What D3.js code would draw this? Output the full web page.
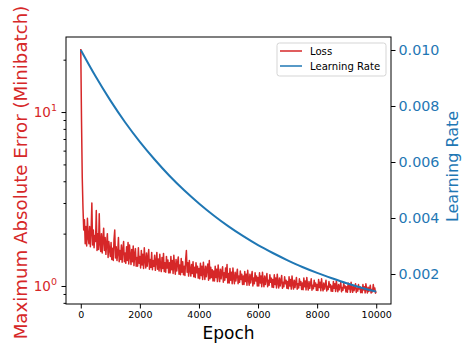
<!DOCTYPE html>
<html>
<head>
<meta charset="utf-8">
<script src="https://cdn.jsdelivr.net/npm/d3@7"></script>
<style>
  html, body { margin: 0; padding: 0; background: #fff; }
  svg { display: block; font-family: "DejaVu Sans", sans-serif; }
</style>
</head>
<body>
<svg id="chart" width="474" height="355"></svg>
<script>
// ---------- data ----------
const lossStep = 25; // epochs between loss samples
const lossValues = [
  23, 9, 4.2, 2.8, 2.1, 2.4, 1.75, 2.2, 1.7, 2.45, 1.9, 1.75, 2.2, 1.68, 2.05, 3.0, 1.72, 2.1, 1.66, 1.95,
  1.8, 2.72, 1.6, 2.0, 1.62, 2.6, 1.75, 1.58, 2.0, 1.55, 1.85, 2.15, 1.6, 1.9, 1.52, 1.75, 2.0, 1.46, 1.8, 1.62,
  1.48, 1.78, 1.42, 1.65, 1.4, 1.85, 2.1, 1.45, 1.68, 1.4, 1.55, 1.9, 1.38, 1.6, 1.42, 1.72, 1.37, 1.62, 1.8, 1.38,
  1.55, 1.35, 1.68, 1.4, 1.78, 1.34, 1.72, 1.5, 1.33, 1.62, 1.38, 1.7, 1.31, 1.52, 1.64, 1.3, 1.46, 1.3, 1.66, 1.35,
  1.48, 1.27, 1.6, 1.32, 1.52, 1.26, 1.66, 1.4, 1.27, 1.55, 1.3, 1.45, 1.62, 1.25, 1.42, 1.28, 1.56, 1.24, 1.4, 1.3,
  1.5, 1.23, 1.38, 1.56, 1.25, 1.43, 1.22, 1.52, 1.3, 1.21, 1.46, 1.26, 1.54, 1.21, 1.36, 1.2, 1.48, 1.27, 1.41, 1.19,
  1.36, 1.19, 1.48, 1.24, 1.4, 1.18, 1.5, 1.28, 1.17, 1.42, 1.22, 1.35, 1.47, 1.17, 1.32, 1.16, 1.44, 1.2, 1.38, 1.16,
  1.3, 1.15, 1.42, 1.6, 1.2, 1.36, 1.14, 1.4, 1.24, 1.14, 1.33, 1.18, 1.38, 1.13, 1.28, 1.12, 1.36, 1.19, 1.3, 1.11,
  1.26, 1.1, 1.35, 1.15, 1.3, 1.09, 1.37, 1.2, 1.09, 1.3, 1.13, 1.26, 1.34, 1.08, 1.4, 1.1, 1.28, 1.12, 1.24, 1.07,
  1.22, 1.07, 1.3, 1.12, 1.25, 1.06, 1.32, 1.16, 1.06, 1.25, 1.1, 1.21, 1.29, 1.05, 1.19, 1.08, 1.27, 1.12, 1.33, 1.04,
  1.18, 1.04, 1.26, 1.08, 1.2, 1.03, 1.27, 1.12, 1.03, 1.2, 1.07, 1.16, 1.25, 1.03, 1.14, 1.05, 1.22, 1.09, 1.17, 1.02,
  1.14, 1.02, 1.21, 1.06, 1.17, 1.01, 1.23, 1.09, 1.01, 1.17, 1.04, 1.13, 1.21, 1.0, 1.11, 1.03, 1.19, 1.07, 1.14, 1.0,
  1.12, 1.0, 1.19, 1.04, 1.14, 0.99, 1.2, 1.07, 0.99, 1.14, 1.02, 1.1, 1.18, 0.99, 1.08, 1.01, 1.16, 1.05, 1.11, 0.985,
  1.09, 0.98, 1.16, 1.02, 1.11, 0.975, 1.17, 1.05, 0.975, 1.11, 1.0, 1.07, 1.15, 0.97, 1.05, 0.99, 1.13, 1.03, 1.08, 0.97,
  1.06, 0.965, 1.13, 1.0, 1.09, 0.96, 1.14, 1.03, 0.96, 1.08, 0.98, 1.05, 1.12, 0.958, 1.03, 0.975, 1.1, 1.01, 1.06, 0.955,
  1.04, 0.952, 1.11, 0.99, 1.07, 0.95, 1.12, 1.01, 0.948, 1.06, 0.97, 1.03, 1.1, 0.946, 1.01, 0.965, 1.08, 0.995, 1.04, 0.944,
  1.02, 0.942, 1.09, 0.98, 1.05, 0.94, 1.1, 0.995, 0.938, 1.04, 0.96, 1.01, 1.08, 0.936, 0.995, 0.955, 1.06, 0.985, 1.02, 0.934,
  1.0, 0.932, 1.06, 0.97, 1.03, 0.93, 1.07, 0.985, 0.928, 1.02, 0.95, 0.995, 1.05, 0.926, 0.98, 0.945, 1.04, 0.975, 1.0, 0.924,
  0.99, 0.922, 1.04, 0.96, 1.01, 0.92, 1.05, 0.975, 0.92, 1.0, 0.94, 0.98, 1.03, 0.918, 0.97, 0.935, 1.02, 0.96, 0.99, 0.916,
  0.975, 0.915, 1.02, 0.95, 0.99, 0.913, 1.03, 0.96, 0.912, 0.985, 0.93, 0.965, 1.01, 0.911, 0.955, 0.925, 1.02, 0.95, 0.975, 0.91,
  0.93
];
const lrEpochs = [0, 500, 1000, 1500, 2000, 2500, 3000, 3500, 4000, 4500, 5000,
                  5500, 6000, 6500, 7000, 7500, 8000, 8500, 9000, 9500, 10000];
const lrValues = [0.01, 0.00906, 0.0082, 0.00742, 0.00672, 0.00609, 0.00551, 0.00499,
                  0.00452, 0.00409, 0.0037, 0.00335, 0.00303, 0.00275, 0.00249,
                  0.00225, 0.00204, 0.00185, 0.00167, 0.00151, 0.00137];
const xTicks = [0, 2000, 4000, 6000, 8000, 10000];
const lossMajorTicks = [1, 10];
const lossMinorTicks = [0.8, 0.9, 2, 3, 4, 5, 6, 7, 8, 9, 20];
const lrTicks = [0.002, 0.004, 0.006, 0.008, 0.010];
const legendItems = ["Loss", "Learning Rate"];

// ---------- layout ----------
const RED = "#d62728", BLUE = "#1f77b4";
const L = 66, R = 391, T = 37, B = 304;
const svg = d3.select("#chart");

const x = d3.scaleLinear().domain([-500, 10500]).range([L, R]);
const yLoss = d3.scaleLog().domain([0.788, 27.0]).range([B, T]);
const yLR = d3.scaleLinear().domain([0.000929, 0.010464]).range([B, T]);

const lossData = lossValues.map((v, i) => [i * lossStep, v]);
const lrData = lrEpochs.map((e, i) => [e, lrValues[i]]);

// clip
svg.append("clipPath").attr("id", "clip").append("rect")
  .attr("x", L).attr("y", T).attr("width", R - L).attr("height", B - T);

const g = svg.append("g").attr("clip-path", "url(#clip)");
g.append("path").datum(lossData)
  .attr("d", d3.line().x(d => x(d[0])).y(d => yLoss(d[1])))
  .attr("fill", "none").attr("stroke", RED).attr("stroke-width", 1.5)
  .attr("stroke-linejoin", "round");
g.append("path").datum(lrData)
  .attr("d", d3.line().curve(d3.curveMonotoneX).x(d => x(d[0])).y(d => yLR(d[1])))
  .attr("fill", "none").attr("stroke", BLUE).attr("stroke-width", 2);

// frame
svg.append("rect").attr("x", L).attr("y", T).attr("width", R - L).attr("height", B - T)
  .attr("fill", "none").attr("stroke", "#000").attr("stroke-width", 1);

// x axis
const xAxis = svg.append("g").attr("transform", `translate(0,${B})`)
  .call(d3.axisBottom(x).tickValues(xTicks).tickSize(4.5).tickPadding(3).tickFormat(d3.format("d")));
xAxis.select(".domain").remove();
xAxis.selectAll("text").attr("font-size", 9.5).attr("fill", "#000").attr("font-family", "DejaVu Sans");

// left axis major + minor
const yl = svg.append("g").attr("transform", `translate(${L},0)`)
  .call(d3.axisLeft(yLoss).tickValues(lossMajorTicks).tickSize(4.5).tickFormat(""));
yl.select(".domain").remove();
const ylm = svg.append("g").attr("transform", `translate(${L},0)`)
  .call(d3.axisLeft(yLoss).tickValues(lossMinorTicks).tickSize(2.5).tickFormat(""));
ylm.select(".domain").remove();
lossMajorTicks.forEach(v => {
  const t = svg.append("text").attr("x", 57).attr("y", yLoss(v) + 5)
    .attr("text-anchor", "end").attr("fill", RED).attr("font-size", 13.5);
  t.append("tspan").text("10");
  t.append("tspan").attr("font-size", 9.5).attr("dy", -6).text(String(Math.round(Math.log10(v))));
});

// right axis
const yr = svg.append("g").attr("transform", `translate(${R},0)`)
  .call(d3.axisRight(yLR).tickValues(lrTicks).tickSize(4.5).tickPadding(3).tickFormat(d3.format(".3f")));
yr.select(".domain").remove();
yr.selectAll("text").attr("font-size", 14.3).attr("fill", BLUE).attr("font-family", "DejaVu Sans");

// axis labels
svg.append("text").attr("x", (x(0) + x(10000)) / 2).attr("y", 339)
  .attr("text-anchor", "middle").attr("font-size", 17).attr("fill", "#000").text("Epoch");
svg.append("text").attr("transform", "translate(27,172.5) rotate(-90)")
  .attr("text-anchor", "middle").attr("font-size", 18.2).attr("fill", RED)
  .text("Maximum Absolute Error (Minibatch)");
svg.append("text").attr("transform", "translate(458,166.5) rotate(-90)")
  .attr("text-anchor", "middle").attr("font-size", 16).attr("fill", BLUE)
  .text("Learning Rate");

// legend
const lg = svg.append("g");
lg.append("rect").attr("x", 277).attr("y", 43).attr("width", 109).attr("height", 33)
  .attr("rx", 2.5).attr("fill", "#fff").attr("fill-opacity", 0.8)
  .attr("stroke", "#d5d5d5").attr("stroke-width", 1);
legendItems.forEach((name, i) => {
  const yy = 51 + i * 15;
  lg.append("line").attr("x1", 280).attr("x2", 302).attr("y1", yy).attr("y2", yy)
    .attr("stroke", i === 0 ? RED : BLUE).attr("stroke-width", 1.5);
  lg.append("text").attr("x", 310).attr("y", yy + 3.6).attr("font-size", 10.1)
    .attr("fill", "#000").text(name);
});
</script>
</body>
</html>
